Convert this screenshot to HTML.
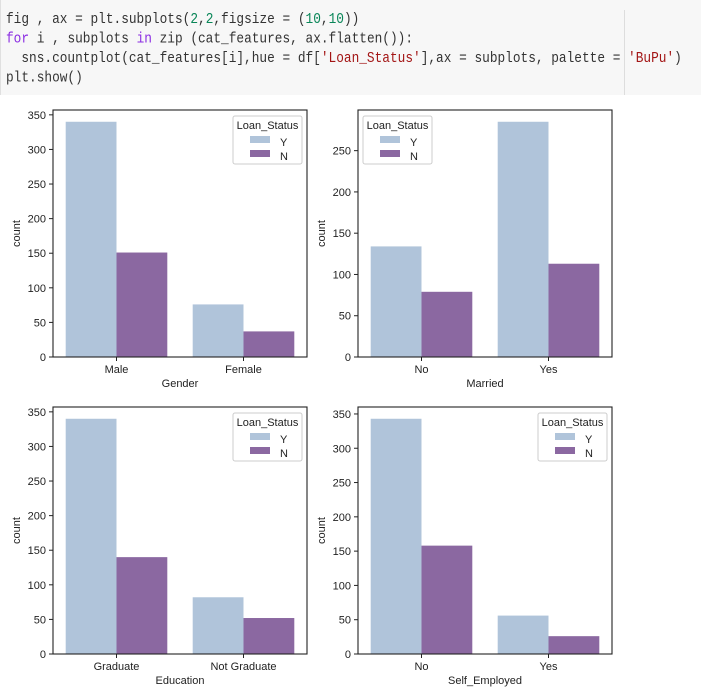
<!DOCTYPE html>
<html><head><meta charset="utf-8"><style>
body{margin:0;width:701px;height:699px;background:#fff;overflow:hidden;position:relative;font-family:"Liberation Sans",sans-serif}
#code{position:absolute;left:0;top:0;width:701px;height:95px;background:#f7f7f7;border-left:1px solid #e0e0e0;box-sizing:border-box;overflow:hidden}
#code pre{margin:0;position:absolute;left:5px;top:9px;font-family:"Liberation Mono",monospace;font-size:12.8px;line-height:17px;color:#333;transform:scaleY(1.15);transform-origin:0 0}
#vline{position:absolute;left:623px;top:10px;width:1px;height:85px;background:#ddd}
.k{color:#8a2be2}.n{color:#098658}.s{color:#a31515}
svg{position:absolute;left:0;top:0}
</style></head><body>
<div id="code"><pre>fig , ax = plt.subplots(<span class="n">2</span>,<span class="n">2</span>,figsize = (<span class="n">10</span>,<span class="n">10</span>))
<span class="k">for</span> i , subplots <span class="k">in</span> zip (cat_features, ax.flatten()):
  sns.countplot(cat_features[i],hue = df[<span class="s">'Loan_Status'</span>],ax = subplots, palette = <span class="s">'BuPu'</span>)
plt.show()</pre><div id="vline"></div></div>
<svg id="fig" width="701" height="699"></svg>
<script>
const panelTitles = ["Gender","Married","Education","Self_Employed"];
const panelCats = [["Male","Female"],["No","Yes"],["Graduate","Not Graduate"],["No","Yes"]];
const seriesY = [[340,76],[134,285],[340,82],[343,56]];
const seriesN = [[151,37],[79,113],[140,52],[158,26]];
const ticks = [[0,50,100,150,200,250,300,350],[0,50,100,150,200,250],[0,50,100,150,200,250,300,350],[0,50,100,150,200,250,300,350]];
const hueLabels = ["Y","N"];
const colors = ["#b0c4da","#8b68a1"];
const layout = [{l:53,r:307,t:110,b:357,leg:233},{l:358,r:612,t:110,b:357,leg:363},{l:53,r:307,t:407,b:654,leg:233},{l:358,r:612,t:407,b:654,leg:538}];
const NS="http://www.w3.org/2000/svg";
const svg=document.getElementById('fig');
function mk(tag,attrs,parent,text){const e=document.createElementNS(NS,tag);for(const k in attrs)e.setAttribute(k,attrs[k]);if(text!==undefined)e.textContent=text;parent.appendChild(e);return e;}
panelTitles.forEach((title,p)=>{
  const L=layout[p];
  const g=mk('g',{},svg);
  
  
  const maxV=Math.max(...seriesY[p],...seriesN[p])*1.05;
  const y=v=>L.b-(v/maxV)*(L.b-L.t);
  const nc=panelCats[p].length;
  const cw=(L.r-L.l)/nc;
  const bw=cw*0.8/2;
  const xc=i=>L.l+cw*(i+0.5);
  [seriesY[p],seriesN[p]].forEach((ser,h)=>{
    ser.forEach((v,i)=>{
      const x0=xc(i)-cw*0.4+h*bw;
      const r=mk('rect',{x:x0,y:y(v),width:bw,height:L.b-y(v),fill:colors[h]},g);
      
      
    });
  });
  const fr=mk('rect',{x:L.l,y:L.t,width:L.r-L.l,height:L.b-L.t,fill:'none',stroke:'#222','stroke-width':1.1},g);
  
  
  ticks[p].forEach(t=>{
    mk('line',{x1:L.l-4,x2:L.l,y1:y(t),y2:y(t),stroke:'#222'},g);
    const tl=mk('text',{x:L.l-7,y:y(t)+4,'text-anchor':'end','font-size':11,fill:'#222'},g,String(t));
    
    
  });
  panelCats[p].forEach((c,i)=>{
    mk('line',{x1:xc(i),x2:xc(i),y1:L.b,y2:L.b+4,stroke:'#222'},g);
    const tl=mk('text',{x:xc(i),y:L.b+16,'text-anchor':'middle','font-size':11,fill:'#222'},g,c);
    
    
  });
  const xt=mk('text',{x:(L.l+L.r)/2,y:L.b+30,'text-anchor':'middle','font-size':11,fill:'#222'},g,title);
  
  
  const ylx=L.l-33;
  const yt=mk('text',{x:ylx,y:(L.t+L.b)/2,'text-anchor':'middle','font-size':11,fill:'#222',transform:`rotate(-90 ${ylx} ${(L.t+L.b)/2})`},g,'count');
  
  
  const lg=mk('g',{},g);
  
  
  const ly=L.t+6;
  mk('rect',{x:L.leg,y:ly,width:69,height:48,rx:2,fill:'#fff','fill-opacity':0.8,stroke:'#ccc'},lg);
  mk('text',{x:L.leg+34.5,y:ly+13,'text-anchor':'middle','font-size':11,fill:'#222'},lg,'Loan_Status');
  hueLabels.forEach((h,k)=>{
    mk('rect',{x:L.leg+17,y:ly+20+k*14,width:20,height:7,fill:colors[k]},lg);
    const t=mk('text',{x:L.leg+47,y:ly+30+k*14,'font-size':11,fill:'#222'},lg,h);
    
    
  });
});
</script>
</body></html>
